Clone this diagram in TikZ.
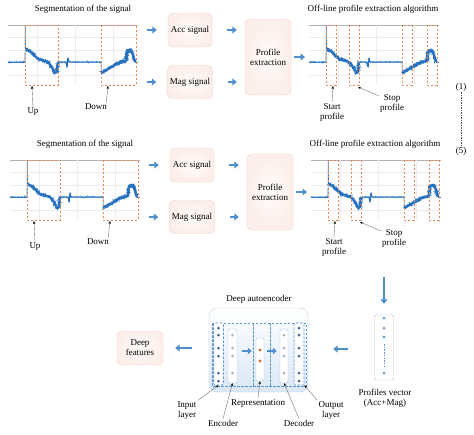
\documentclass[tikz,border=0pt]{standalone}
\usepackage{fontspec}
\setmainfont{Liberation Serif}
\usetikzlibrary{arrows.meta,decorations.pathmorphing}

\definecolor{fatblue}{RGB}{78,143,206}
\definecolor{sigblue}{RGB}{36,112,190}
\definecolor{cutorange}{RGB}{228,138,88}
\definecolor{boxline}{RGB}{240,204,190}
\definecolor{boxin}{RGB}{255,252,251}
\definecolor{boxfill}{RGB}{252,238,234}
\definecolor{aeline}{RGB}{196,210,228}
\definecolor{aefill}{RGB}{218,231,246}
\definecolor{layerblue}{RGB}{62,102,150}
\definecolor{hidgray}{RGB}{172,176,186}
\definecolor{codeorange}{RGB}{212,104,52}
\definecolor{dashblue}{RGB}{96,152,206}

\tikzset{
  txt/.style={font=\fontsize{9}{10}\selectfont, inner sep=1pt, align=center},
  fat/.style={draw=fatblue, line width=2.8pt, -{Triangle[length=4.5pt,width=7pt]}},
  fatsmall/.style={draw=fatblue, line width=2.6pt, -{Triangle[length=4pt,width=6.5pt]}},
  softbox/.style={txt, draw=boxline, rounded corners=5pt, inner color=boxin, outer color=boxfill},
  cut/.style={draw=cutorange, line width=0.65pt, dash pattern=on 2.4pt off 1.6pt},
  sig/.style={draw=sigblue, line width=0.45pt, decorate, decoration={random steps, segment length=0.35pt, amplitude=#1}},
  sig/.default=0.5pt,
  band/.style={draw=sigblue!90, line width=#1, line join=round},
  band/.default=1pt,
  ptr/.style={draw=black!60, line width=0.35pt, -{Stealth[length=3pt,width=2.4pt,color=black]}},
  gline/.style={draw=black!7, line width=0.35pt},
  col/.style={draw=dashblue!55, fill=white, rounded corners=1.5pt, line width=0.4pt, inner sep=0pt},
  region/.style={draw=dashblue, line width=0.55pt, dash pattern=on 2.5pt off 1.5pt}
}

% grid and signal of one plot, 130 x 60
\newcommand{\plotgrid}{%
  \draw[black!30, line width=0.4pt] (0,0) -- (130,0);
  \foreach \gy in {12,25,50} \draw[gline] (0,\gy) -- (130,\gy);
  \foreach \gx in {29,67,105} \draw[gline] (\gx,0) -- (\gx,60);
}
\newcommand{\sigtrace}{%
  \draw[band] (0,37) -- (17,37);
  \draw[sig] (0,37) -- (17,37);
  \draw[sigblue, line width=0.6pt] (17,37) -- (17.2,1) -- (17.6,24);
  \draw[band=2.4pt] (17.6,24) -- (22,26) -- (30,34) -- (40,37) -- (44,42) -- (47,48) -- (49,47) -- (50,37);
  \draw[sig=2pt] (17.6,24) -- (22,26) -- (30,34) -- (40,37) -- (44,42) -- (47,48) -- (49,47) -- (50,37);
  \draw[band] (50,37) -- (58,37) -- (59,42) -- (60,33) -- (61,37) -- (93,37);
  \draw[sig] (50,37) -- (58,37) -- (59,42) -- (60,33) -- (61,37) -- (93,37);
  \draw[sigblue, line width=0.6pt] (93,37) -- (93.3,49);
  \draw[band=2.6pt] (93.3,48) -- (100,44) -- (110,38) -- (118,36) -- (119,26) -- (123,25) -- (125,30) -- (127,37);
  \draw[sig=2pt] (93.3,48) -- (100,44) -- (110,38) -- (118,36) -- (119,26) -- (123,25) -- (125,30) -- (127,37);
  \draw[band] (127,37) -- (130,37);
}

\begin{document}
\begin{tikzpicture}[x=1pt,y=-1pt]
\useasboundingbox (0,0) rectangle (474,434);

% two segmentation rows
\foreach \r/\dx/\dy in {A/0/0,B/2/135}{
\begin{scope}[shift={(\dx,\dy)}]
  \node[txt] (segtitle\r) at (83,9) {Segmentation of the signal};
  \node[inner sep=0pt, minimum width=130pt, minimum height=60pt, anchor=north west] (seg\r) at (8,25) {};
  \begin{scope}[shift={(8,25)}]
    \plotgrid
    \sigtrace
    \draw[cut] (17,0) rectangle (50,60);
    \draw[cut] (93,0) rectangle (128,60);
  \end{scope}
  \node[txt] (up\r) at (33,112) {Up};
  \node[txt] (down\r) at (96,107) {Down};
  \coordinate (upend\r) at (32,86);
  \coordinate (downend\r) at (108,86);
  \draw[ptr] (up\r.north) -- (upend\r);
  \draw[ptr] ([xshift=-2pt]down\r.north east) -- (downend\r);

  \node[softbox, minimum width=44pt, minimum height=34pt] (acc\r) at (190,30) {Acc signal};
  \node[softbox, minimum width=45pt, minimum height=33pt] (mag\r) at (190,82) {Mag signal};
  \node[softbox, minimum width=46pt, minimum height=76pt] (prof\r) at (268,57) {Profile\\extraction};

  \node[txt] (offtitle\r) at (373,9) {Off-line profile extraction algorithm};
  \node[inner sep=0pt, minimum width=130pt, minimum height=60pt, anchor=north west] (off\r) at (309,25) {};
  \begin{scope}[shift={(309,25)}]
    \plotgrid
    \sigtrace
    \draw[cut] (17,0) rectangle (27,60);
    \draw[cut] (40,0) rectangle (50,60);
    \draw[cut] (93,0) rectangle (103,60);
    \draw[cut] (118,0) rectangle (128,60);
  \end{scope}
  \node[txt] (start\r) at (332,112) {Start\\profile};
  \node[txt] (stop\r) at (392,103) {Stop\\profile};
  \coordinate (startend\r) at (333,86);
  \coordinate (stopend\r) at (358,87);
  \draw[ptr] (start\r.north) -- (startend\r);
  \draw[ptr] ([yshift=-3pt]stop\r.north west) -- (stopend\r);

  \draw[fat, shorten <=9pt, shorten >=11pt] (seg\r.east |- acc\r) -- (acc\r);
  \draw[fat, shorten <=9pt, shorten >=11pt] (seg\r.east |- mag\r) -- (mag\r);
  \draw[fat, shorten <=15pt, shorten >=8pt] (acc\r) -- (prof\r.west |- acc\r);
  \draw[fat, shorten <=15pt, shorten >=8pt] (mag\r) -- (prof\r.west |- mag\r);
  \draw[fat, shorten <=3pt, shorten >=4pt] (prof\r) -- (off\r.west |- prof\r);
\end{scope}
}

\node[txt] (idx1) at (461,87) {(1)};
\node[txt] (idx5) at (461,151) {(5)};
\draw[black!70, line width=0.4pt, dash pattern=on 1.5pt off 1pt] (idx1) -- (idx5);

% profiles vector
\node[col, minimum width=19pt, minimum height=65pt] (vec) at (384,347.5) {};
\foreach \vy in {318,328,337,373} \fill[dashblue] (384,\vy) circle (1.5pt);
\draw[dashblue, line width=0.4pt, dash pattern=on 1.5pt off 1.2pt] (384,344) -- (384,368);
\node[txt] (veclbl) at (385,398.5) {Profiles vector\\(Acc+Mag)};
\coordinate (vectop) at (384,277);
\draw[fat, shorten >=11pt] (vectop) -- (vec.north);

% deep autoencoder
\node[draw=aeline, rounded corners=8pt, top color=white, bottom color=aefill, minimum width=99pt, minimum height=84pt] (ae) at (258.5,350) {};
\node[txt] (aetitle) at (259,299) {Deep autoencoder};
\draw[region] (212,323) rectangle (306,386);
\draw[region] (253,323) -- (253,386);
\draw[region] (270,323) -- (270,386);
\node[col, region, minimum width=10pt, minimum height=62pt] (inl) at (218.5,354) {};
\node[col, minimum width=9pt, minimum height=54pt] (enc) at (232.5,356) {};
\node[col, minimum width=8pt, minimum height=43pt] (rep) at (260,359.5) {};
\node[col, minimum width=8pt, minimum height=54pt] (dec) at (284,356) {};
\node[col, region, minimum width=10pt, minimum height=62pt] (outl) at (299,354) {};
\foreach \ly in {328,335,348,356,373,381} {
  \fill[layerblue] (218.5,\ly) circle (1.5pt);
  \fill[layerblue] (299,\ly) circle (1.5pt);
}
\foreach \ly in {335,348,356,373} {
  \fill[hidgray] (232.5,\ly) circle (1.5pt);
  \fill[hidgray] (284,\ly) circle (1.5pt);
}
\foreach \ly in {350,361} \fill[codeorange] (260,\ly) circle (1.6pt);
\draw[fatsmall, shorten <=5pt, shorten >=4pt] (enc.east |- 0,351) -- (rep.west |- 0,351);
\draw[fatsmall, shorten <=3pt, shorten >=3pt] (rep.east |- 0,351) -- (dec.west |- 0,351);

\node[txt] (inlbl) at (187,410.5) {Input\\layer};
\node[txt] (enclbl) at (223,423) {Encoder};
\node[txt] (replbl) at (258,403) {Representation};
\node[txt] (declbl) at (299,423) {Decoder};
\node[txt] (outlbl) at (331,410.5) {Output\\layer};
\draw[ptr] (inlbl.north east) -- (inl.south);
\draw[ptr] (enclbl.north) -- (enc.south);
\draw[ptr] (replbl.north) -- (rep.south);
\draw[ptr] (declbl.north) -- (dec.south);
\draw[ptr] (outlbl.north west) -- (outl.south east);

% deep features
\node[softbox, minimum width=46pt, minimum height=34pt] (feat) at (140,348) {Deep\\features};
\draw[fat, shorten <=17pt, shorten >=12pt] (ae.west |- feat) -- (feat);
\draw[fat, shorten <=26pt, shorten >=25pt] (vec.west |- 0,349) -- (ae.east |- 0,349);
\end{tikzpicture}
\end{document}
